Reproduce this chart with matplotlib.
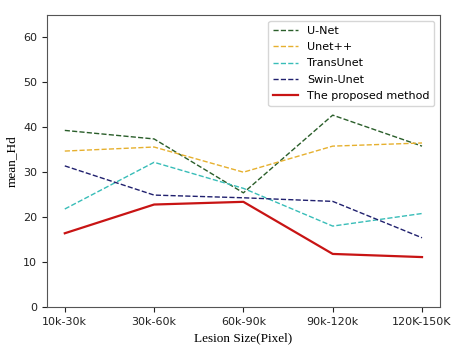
import matplotlib
matplotlib.use("Agg")
import matplotlib.pyplot as plt

categories = ["10k-30k", "30k-60k", "60k-90k", "90k-120k", "120K-150K"]
unet = [39.3, 37.4, 25.4, 42.7, 35.8]
unetpp = [34.7, 35.6, 30.0, 35.8, 36.5]
transunet = [21.8, 32.2, 26.4, 18.0, 20.8]
swinunet = [31.4, 24.9, 24.3, 23.5, 15.4]
proposed = [16.4, 22.8, 23.4, 11.8, 11.1]

fig = plt.figure(figsize=(4.74, 3.48), dpi=100)
ax = fig.add_axes([0.099, 0.118, 0.829, 0.839])

x = range(len(categories))
ax.plot(x, unet, "--", color="#2a5e2a", lw=1.0, label="U-Net")
ax.plot(x, unetpp, "--", color="#e6b02e", lw=1.0, label="Unet++")
ax.plot(x, transunet, "--", color="#38bdb8", lw=1.0, label="TransUnet")
ax.plot(x, swinunet, "--", color="#20206e", lw=1.0, label="Swin-Unet")
ax.plot(x, proposed, "-", color="#c81414", lw=1.6, label="The proposed method")

ax.set_ylim(0, 65)
ax.set_yticks(range(0, 61, 10))
ax.set_xticks(list(x))
ax.set_xticklabels(categories)
ax.tick_params(labelsize=8, colors="#222222")
for s in ax.spines.values():
    s.set_color("#555555")

ax.set_ylabel("mean_Hd", family="Liberation Serif", fontsize=9.5)
ax.set_xlabel("Lesion Size(Pixel)", family="Liberation Serif", fontsize=9.5)

ax.legend(loc="upper right", fontsize=8, handlelength=2.2, borderpad=0.45, labelspacing=0.58)

fig.savefig("out.png", dpi=100)
